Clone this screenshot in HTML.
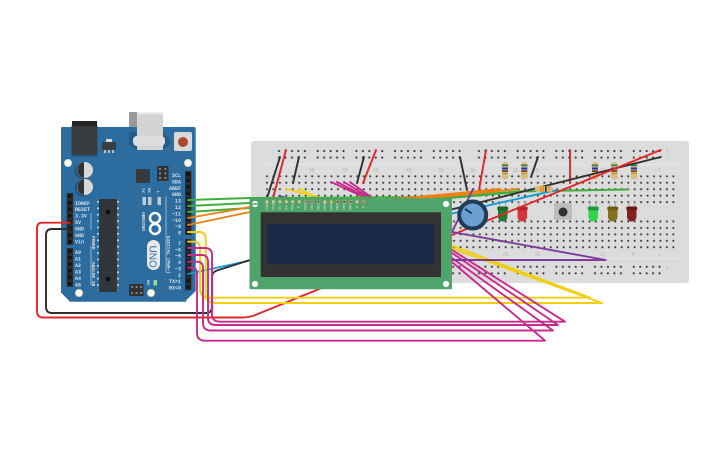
<!DOCTYPE html>
<html><head><meta charset="utf-8"><style>
html,body{margin:0;padding:0;background:#fff;width:725px;height:453px;overflow:hidden}
svg{display:block}
.w{fill:none;stroke-width:1.9;stroke-linejoin:round;stroke-linecap:round}
.t{font-family:"Liberation Mono",monospace;font-size:5px;fill:#d5e0e9;font-weight:bold}
.bt{font-family:"Liberation Sans",sans-serif;font-size:5px;fill:#b5b5b5}
</style></head><body>
<svg width="725" height="453" viewBox="0 0 725 453" xmlns="http://www.w3.org/2000/svg">
<defs>
<pattern id="m" x="264.8" y="173.8" width="6.45" height="6.45" patternUnits="userSpaceOnUse"><circle cx="2.2" cy="2.5" r="1.05" fill="#333"/></pattern>
<pattern id="r" x="276.8" y="148.7" width="6.45" height="6.55" patternUnits="userSpaceOnUse"><circle cx="2.2" cy="2.3" r="1.05" fill="#333"/></pattern>
<pattern id="r2" x="276.8" y="264.4" width="6.45" height="6.55" patternUnits="userSpaceOnUse"><circle cx="2.2" cy="2.3" r="1.05" fill="#333"/></pattern>
<g id="res"><rect x="-3" y="0" width="6" height="17.500" rx="2.800" fill="#d9bb83"/><rect x="-3.500" y="1" width="7" height="4.500" rx="2" fill="#d9bb83"/><rect x="-3.500" y="12.500" width="7" height="4.500" rx="2" fill="#d9bb83"/><rect x="-3.200" y="2.500" width="6.400" height="1.700" fill="#2c8a3a"/><rect x="-3" y="5.500" width="6" height="2" fill="#1c2fc0"/><rect x="-3" y="8.300" width="6" height="1.600" fill="#6a3a10"/><rect x="-3" y="11" width="6" height="1" fill="#b8962e"/></g>
<g id="hdr"><rect x="0" y="0" width="6.4" height="6.4" fill="#2a2a2a"/><rect x="1.6" y="1.6" width="3.2" height="3.2" fill="#111"/></g>
</defs>

<!-- breadboard -->
<rect x="251" y="141" width="438" height="142" rx="3" fill="#dcdcdc"/>
<path d="M260 164.500H682M260 258.500H682" stroke="#e6e6e6" stroke-width="1"/>
<g>
<rect x="265" y="174" width="410" height="31" fill="url(#m)"/>
<rect x="265" y="219" width="410" height="31" fill="url(#m)"/>
<g fill="url(#r)">
<rect x="277" y="149" width="31" height="12"/><rect x="315.500" y="149" width="31" height="12"/><rect x="354" y="149" width="31" height="12"/><rect x="392.200" y="149" width="31" height="12"/><rect x="431" y="149" width="31" height="12"/><rect x="476" y="149" width="31" height="12"/><rect x="514.500" y="149" width="31" height="12"/><rect x="553" y="149" width="31" height="12"/><rect x="592" y="149" width="31" height="12"/><rect x="630.500" y="149" width="31" height="12"/>
</g>
<g fill="url(#r2)">
<rect x="277" y="265" width="31" height="12"/><rect x="315.500" y="265" width="31" height="12"/><rect x="354" y="265" width="31" height="12"/><rect x="392.200" y="265" width="31" height="12"/><rect x="431" y="265" width="31" height="12"/><rect x="476" y="265" width="31" height="12"/><rect x="514.500" y="265" width="31" height="12"/><rect x="553" y="265" width="31" height="12"/><rect x="592" y="265" width="31" height="12"/><rect x="630.500" y="265" width="31" height="12"/>
</g>
</g>
<g class="bt">
<text x="309" y="172">55</text><text x="342" y="172">50</text><text x="373" y="172">45</text><text x="406" y="172">40</text><text x="438" y="172">35</text><text x="470" y="172">30</text><text x="513" y="172">25</text><text x="533" y="172">20</text><text x="600" y="172">10</text><text x="630" y="172">5</text><text x="658" y="172">1</text>
<text x="470" y="256">30</text><text x="503" y="256">25</text><text x="535" y="256">20</text><text x="600" y="256">10</text><text x="632" y="256">5</text><text x="658" y="256">1</text>
<text x="665" y="153" style="fill:#eba6a6;font-size:7px">+</text><text x="665" y="160" style="fill:#a9c6e6;font-size:7px">−</text><text x="665" y="270" style="fill:#eba6a6;font-size:7px">+</text><text x="665" y="276" style="fill:#a9c6e6;font-size:7px">−</text>
</g>

<!-- jumpers on breadboard -->
<g class="w">
<path d="M280 157L267 198" stroke="#2f2f2f"/>
<path d="M286 150L273 198" stroke="#e3242b"/>
<path d="M299 157L293 183" stroke="#2f2f2f"/>
<path d="M364 157L357 183" stroke="#2f2f2f"/>
<path d="M376 150L363 183" stroke="#e3242b"/>
<path d="M460 157L467 190" stroke="#2f2f2f"/>
<path d="M486 150L479 190" stroke="#e3242b"/>
<path d="M538 157L531 177" stroke="#2f2f2f"/>
<path d="M570 150L570 183" stroke="#d92a30"/>
<path d="M286 189L326 199M299 189L318 198" stroke="#f2cf0e"/>
<path d="M331 182L368 199M337 182L370 199M344 182L372 199M350 182L374 199" stroke="#c92a8d"/>
<path d="M279 196L292 199" stroke="#7d3a9e"/>
</g>

<!-- resistors -->
<use href="#res" x="505" y="162"/><use href="#res" x="524.300" y="162"/><use href="#res" x="595" y="162"/><use href="#res" x="614.300" y="162"/><use href="#res" x="634" y="162"/>

<!-- LEDs -->
<path d="M499.500 201V207M505.500 201V207M519 201V207M525 201V207M590 201V207M596 201V207M609.500 201V207M615.500 201V207M629 201V207M635 201V207" stroke="#a8a8a8" stroke-width="1"/>
<g>
<rect x="498" y="207" width="9.500" height="14.500" rx="4.500" fill="#1e7d2f"/><rect x="497.300" y="206.500" width="10.900" height="4" rx="1.500" fill="#16692a"/>
<rect x="517.500" y="207" width="9.500" height="14.500" rx="4.500" fill="#d8343a"/><rect x="516.800" y="206.500" width="10.900" height="4" rx="1.500" fill="#b52a30"/>
<rect x="588.500" y="207" width="9.500" height="14.500" rx="4.500" fill="#2fd54a"/><rect x="587.800" y="206.500" width="10.900" height="4" rx="1.500" fill="#1f9a3a"/>
<rect x="608" y="207" width="9.500" height="14.500" rx="4.500" fill="#84701d"/><rect x="607.300" y="206.500" width="10.900" height="4" rx="1.500" fill="#6f5e18"/>
<rect x="627" y="207" width="9.500" height="14.500" rx="4.500" fill="#84201f"/><rect x="626.300" y="206.500" width="10.900" height="4" rx="1.500" fill="#6d1a1a"/>
</g>
<!-- pushbutton -->
<rect x="554" y="203" width="18" height="17" rx="1.500" fill="#bdbdbd"/><circle cx="563" cy="212" r="4.500" fill="#333"/>

<!-- Arduino -->
<rect x="129" y="112" width="34" height="38" fill="#c9c9c9"/><rect x="129" y="112" width="8" height="24" fill="#9a9a9a"/>
<path d="M62 127H194Q195.700 127 195.700 129V291L186 300.500V301.700H70L61 292.500V129Q61 127 62 127Z" fill="#2c6c9e"/>
<path d="M129 132H162L170 139V144L162 150H137L129 144Z" fill="#1f4f77" opacity=".55"/>
<rect x="137" y="112" width="26" height="38" rx="1" fill="#d4d4d4"/><rect x="133" y="136" width="32" height="10" rx="4" fill="#dcdcdc"/><rect x="137" y="112" width="26" height="2" fill="#ececec"/>
<rect x="71" y="125" width="27" height="32" rx="2" fill="#1f4f77" opacity=".6"/>
<rect x="72" y="121" width="25" height="34" rx="2" fill="#3a3d3f"/><rect x="72" y="121" width="25" height="5" fill="#232323"/>
<rect x="174" y="132" width="18" height="19" rx="2" fill="#d9d9d9"/><circle cx="183" cy="142" r="5" fill="#a84a2c"/>
<rect x="102" y="142" width="14" height="8" fill="#3b3e40"/><rect x="106" y="139" width="6" height="3" fill="#d8d8d8"/><rect x="104" y="150" width="2" height="3" fill="#bbb"/><rect x="108" y="150" width="2" height="3" fill="#bbb"/><rect x="112" y="150" width="2" height="3" fill="#bbb"/>
<circle cx="83" cy="171" r="8.500" fill="#1f4f77" opacity=".7"/><circle cx="83" cy="188" r="8.500" fill="#1f4f77" opacity=".7"/>
<circle cx="85" cy="170" r="8" fill="#d8d8d8"/><path d="M84 162.100A8 8 0 0 0 84 177.900Z" fill="#333"/>
<circle cx="85" cy="187" r="8" fill="#d8d8d8"/><path d="M84 179.100A8 8 0 0 0 84 194.900Z" fill="#333"/>
<rect x="136" y="169" width="14" height="14" fill="#333a40"/>
<rect x="157" y="166" width="11.500" height="15" fill="#333"/>
<g fill="#999"><circle cx="160" cy="169" r="1"/><circle cx="165.500" cy="169" r="1"/><circle cx="160" cy="173.500" r="1"/><circle cx="165.500" cy="173.500" r="1"/><circle cx="160" cy="178" r="1"/><circle cx="165.500" cy="178" r="1"/></g>
<rect x="99" y="199" width="18" height="93" rx="1" fill="#333639"/>
<path d="M98 201V291M118 201V291" stroke="#e4e4e4" stroke-width="1.600" stroke-dasharray="1.800 4.600"/>
<circle cx="108" cy="212" r="2.500" fill="#111"/><circle cx="108" cy="279" r="2.500" fill="#111"/>
<g fill="#c8c8c8"><rect x="142.500" y="197" width="3.500" height="8"/><rect x="148" y="197" width="3.500" height="8"/><rect x="157.500" y="197" width="3.500" height="8"/></g>
<rect x="129" y="284" width="14.500" height="12" fill="#333"/>
<g fill="#999"><circle cx="132" cy="287" r="1"/><circle cx="136.500" cy="287" r="1"/><circle cx="141" cy="287" r="1"/><circle cx="132" cy="293" r="1"/><circle cx="136.500" cy="293" r="1"/><circle cx="141" cy="293" r="1"/></g>
<rect x="153.500" y="280" width="3.500" height="5.500" fill="#9bd89b"/>
<g fill="#fff" stroke="#e2dcae" stroke-width="1"><circle cx="68" cy="163" r="3.500"/><circle cx="188" cy="163" r="3.500"/><circle cx="79" cy="293" r="3.500"/><circle cx="151" cy="293" r="3.500"/></g>
<g id="hdrs">
<use href="#hdr" x="66.700" y="193"/><use href="#hdr" x="66.700" y="199.500"/><use href="#hdr" x="66.700" y="206"/><use href="#hdr" x="66.700" y="212.500"/><use href="#hdr" x="66.700" y="219"/><use href="#hdr" x="66.700" y="225.500"/><use href="#hdr" x="66.700" y="232"/><use href="#hdr" x="66.700" y="238.500"/>
<use href="#hdr" x="66.700" y="248"/><use href="#hdr" x="66.700" y="254.500"/><use href="#hdr" x="66.700" y="261"/><use href="#hdr" x="66.700" y="267.500"/><use href="#hdr" x="66.700" y="274"/><use href="#hdr" x="66.700" y="280.500"/>
<use href="#hdr" x="185" y="171"/><use href="#hdr" x="185" y="177.400"/><use href="#hdr" x="185" y="183.800"/><use href="#hdr" x="185" y="190.200"/><use href="#hdr" x="185" y="196.600"/><use href="#hdr" x="185" y="203"/><use href="#hdr" x="185" y="209.400"/><use href="#hdr" x="185" y="215.800"/><use href="#hdr" x="185" y="222.200"/><use href="#hdr" x="185" y="228.600"/>
<use href="#hdr" x="185" y="239"/><use href="#hdr" x="185" y="245.400"/><use href="#hdr" x="185" y="251.800"/><use href="#hdr" x="185" y="258.200"/><use href="#hdr" x="185" y="264.600"/><use href="#hdr" x="185" y="271"/><use href="#hdr" x="185" y="277.400"/><use href="#hdr" x="185" y="283.800"/>
</g>
<g class="t">
<text x="75" y="205">IOREF</text><text x="75" y="211">RESET</text><text x="75" y="217.500">3.3V</text><text x="75" y="224">5V</text><text x="75" y="230.500">GND</text><text x="75" y="237">GND</text><text x="75" y="243.500">Vin</text>
<text x="75" y="254">A0</text><text x="75" y="260.500">A1</text><text x="75" y="267">A2</text><text x="75" y="273.500">A3</text><text x="75" y="280">A4</text><text x="75" y="286.500">A5</text>
<g text-anchor="end">
<text x="181" y="177">SCL</text><text x="181" y="183.500">SDA</text><text x="181" y="190">AREF</text><text x="181" y="196">GND</text><text x="181" y="202.500">13</text><text x="181" y="209">12</text><text x="181" y="215.500">~11</text><text x="181" y="222">~10</text><text x="181" y="228">~9</text><text x="181" y="234.500">8</text>
<text x="181" y="245">7</text><text x="181" y="251.500">~6</text><text x="181" y="257.500">~5</text><text x="181" y="264">4</text><text x="181" y="270.500">~3</text><text x="181" y="277">2</text><text x="181" y="283">TX&gt;1</text><text x="181" y="289.500">RX&lt;0</text>
</g>
<text transform="translate(92,236) rotate(90)" style="font-size:4.500px">POWER</text>
<text transform="translate(92,262) rotate(90)" style="font-size:4.500px">ANALOG IN</text>
<text transform="translate(167,236) rotate(90)" style="font-size:4.500px">DIGITAL (PWM~)</text>
<text transform="translate(142,212) rotate(90)" style="font-size:4.500px">ARDUINO</text>
<text transform="translate(142,188) rotate(90)" style="font-size:4px">TX</text>
<text transform="translate(148,188) rotate(90)" style="font-size:4px">RX</text>
<text transform="translate(157,191) rotate(90)" style="font-size:4px">L</text>
<text transform="translate(147,280) rotate(90)" style="font-size:4px">ON</text>
</g>
<path d="M91 213V230M91 246V285M166 196V272" stroke="#dce6ee" stroke-width=".6"/>
<!-- logo -->
<g fill="none" stroke="#fff" stroke-width="2.500"><circle cx="155" cy="218" r="5"/><circle cx="155" cy="229" r="5"/></g>
<rect x="147" y="240" width="13" height="30" rx="6.500" fill="#e8e8e8"/>
<text transform="translate(149.500,245.500) rotate(90)" font-family="Liberation Sans,sans-serif" font-size="10" fill="#2c6c9e">UNO</text>

<!-- long wires -->
<g class="w">
<path d="M188 200L250 198L450 197L517 191.500L628 189.500" stroke="#3fae3f"/>
<path d="M188 206L250 203L450 197.500L500 190" stroke="#3fae3f"/>
<path d="M188 212L250 208L450 198L518 192" stroke="#3fae3f"/>
<path d="M188 218L250 207L450 196L518 189" stroke="#ef7f10"/>
<path d="M188 225L250 212L450 194L500 189" stroke="#ef7f10"/>
<path d="M188 274L250 260.500L450 214L557 190" stroke="#109ed0"/>
<path d="M70 229H52Q46 229 46 235V307Q46 313 52 313H206Q212 313 212 307V277Q212 272 217 270.500L250 260L660.700 157" stroke="#2f2f2f"/>
<path d="M70 222.700H42Q37 222.700 37 228V311Q37 317.500 43 317.500H242Q248 317.500 254 315.500L660.700 150" stroke="#e3242b"/>
<path d="M188 232H199Q205.700 232 205.700 239V294Q205.700 303 215 303H602L452 248.500" stroke="#f2cf0e"/>
<path d="M188 241.700H194Q200 241.700 200 248V289Q200 297.700 209 297.700H590L452 245.700" stroke="#f2cf0e"/>
<path d="M188 248H205Q212 248 212 255V314Q212 321.700 220 321.700H565L452 250" stroke="#c92a8d"/>
<path d="M188 255H202Q208 255 208 262V318Q208 325 216 325H558L452 253" stroke="#c92a8d"/>
<path d="M188 261.700H197Q203 261.700 203 268V323Q203 330.500 211 330.500H553L452 258" stroke="#c92a8d"/>
<path d="M188 267.700H192Q197 267.700 197 274V333Q197 340.700 205 340.700H545L452 262" stroke="#c92a8d"/>
<path d="M452 232L605.700 260H452" stroke="#7d3a9e"/>
<path d="M473 189L452 232" stroke="#7d3a9e"/>
</g>

<!-- horizontal resistor -->
<g transform="translate(535,189)"><rect x="0" y="-3" width="18" height="6" rx="2.500" fill="#d9bb83"/><rect x="5" y="-3" width="1.500" height="6" fill="#ef8a14"/><rect x="7.500" y="-3" width="1.500" height="6" fill="#ef8a14"/><rect x="10" y="-3" width="1.500" height="6" fill="#222"/><rect x="13.500" y="-3" width="1" height="6" fill="#b8962e"/></g>

<!-- potentiometer -->
<circle cx="472.700" cy="215" r="15.500" fill="#1e3d58"/><circle cx="472.700" cy="215" r="11.500" fill="#6c9ed2"/><path d="M471.700 213.300L465 209" stroke="#1e3d58" stroke-width="2"/>

<!-- LCD -->
<rect x="249.500" y="198.300" width="202.500" height="91" rx="1.500" fill="#4ea46b"/>
<rect x="260.700" y="212.300" width="180.300" height="64.700" fill="#333"/>
<rect x="267" y="224" width="167.300" height="40.300" fill="#1b2a4a"/>
<circle cx="255" cy="284" r="3.100" fill="#fff"/><circle cx="446" cy="284" r="3.100" fill="#fff"/><circle cx="446" cy="204" r="3.100" fill="#fff"/><circle cx="255" cy="204" r="3.100" fill="#fff"/><path d="M251.500 204H258.500" stroke="#4ea46b" stroke-width="1.500"/>
<g fill="#c7cf9a" stroke="#8a8f5e" stroke-width=".6">
<circle cx="267" cy="201.800" r="1.800"/><circle cx="273.400" cy="201.800" r="1.800"/><circle cx="279.900" cy="201.800" r="1.800"/><circle cx="286.300" cy="201.800" r="1.800"/><circle cx="292.700" cy="201.800" r="1.800"/><circle cx="299.200" cy="201.800" r="1.800"/><circle cx="305.600" cy="201.800" r="1.800"/><circle cx="312" cy="201.800" r="1.800"/><circle cx="318.400" cy="201.800" r="1.800"/><circle cx="324.900" cy="201.800" r="1.800"/><circle cx="331.300" cy="201.800" r="1.800"/><circle cx="337.700" cy="201.800" r="1.800"/><circle cx="344.200" cy="201.800" r="1.800"/><circle cx="350.600" cy="201.800" r="1.800"/><circle cx="357" cy="201.800" r="1.800"/><circle cx="363.400" cy="201.800" r="1.800"/>
</g>
<circle cx="305.600" cy="201.800" r="1" fill="#7d3a9e"/><circle cx="312" cy="201.800" r="1" fill="#7d3a9e"/><circle cx="318.400" cy="201.800" r="1" fill="#333"/><circle cx="331.300" cy="201.800" r="1" fill="#e0b80e"/><circle cx="337.700" cy="201.800" r="1" fill="#333"/><circle cx="344.200" cy="201.800" r="1" fill="#333"/><circle cx="350.600" cy="201.800" r="1" fill="#333"/><circle cx="363.400" cy="201.800" r="1" fill="#c92a8d"/>
<g fill="#c9e0cf" font-family="Liberation Sans,sans-serif" font-size="3.500">
<text transform="translate(268,210) rotate(-90)">GND</text><text transform="translate(274.400,210) rotate(-90)">VCC</text><text transform="translate(281,210) rotate(-90)">V0</text><text transform="translate(287.300,210) rotate(-90)">RS</text><text transform="translate(293.700,210) rotate(-90)">RW</text><text transform="translate(300.200,208) rotate(-90)">E</text><text transform="translate(306.600,210) rotate(-90)">DB0</text><text transform="translate(313,210) rotate(-90)">DB1</text><text transform="translate(319.400,210) rotate(-90)">DB2</text><text transform="translate(325.900,210) rotate(-90)">DB3</text><text transform="translate(332.300,210) rotate(-90)">DB4</text><text transform="translate(338.700,210) rotate(-90)">DB5</text><text transform="translate(345.200,210) rotate(-90)">DB6</text><text transform="translate(351.600,210) rotate(-90)">DB7</text><text transform="translate(358,208) rotate(-90)">A</text><text transform="translate(364.400,208) rotate(-90)">K</text>
</g>
</svg>
</body></html>
